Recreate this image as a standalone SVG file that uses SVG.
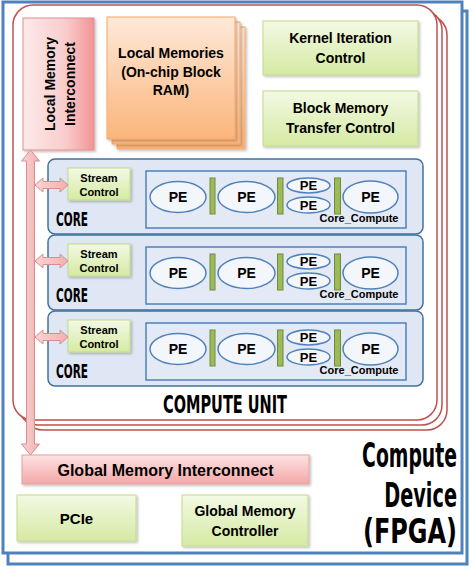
<svg xmlns="http://www.w3.org/2000/svg" width="474" height="567" viewBox="0 0 474 567">
<defs>
  <linearGradient id="gGreen" x1="0" y1="0" x2="0" y2="1">
    <stop offset="0" stop-color="#f3f9e4"/>
    <stop offset="1" stop-color="#d5eaa3"/>
  </linearGradient>
  <linearGradient id="gOrange" x1="0" y1="0" x2="0" y2="1">
    <stop offset="0" stop-color="#fee9d9"/>
    <stop offset="1" stop-color="#fbb57b"/>
  </linearGradient>
  <linearGradient id="gPinkV" x1="0" y1="0" x2="0" y2="1">
    <stop offset="0" stop-color="#fde3e3"/>
    <stop offset="1" stop-color="#f4a7a7"/>
  </linearGradient>
  <linearGradient id="gPinkH" x1="0" y1="0" x2="1" y2="0">
    <stop offset="0" stop-color="#fdeaea"/>
    <stop offset="0.6" stop-color="#f9cccc"/>
    <stop offset="1" stop-color="#f29494"/>
  </linearGradient>
  <linearGradient id="gArrow" x1="0" y1="0" x2="1" y2="0">
    <stop offset="0" stop-color="#f9d4d4"/>
    <stop offset="1" stop-color="#f3b0b0"/>
  </linearGradient>
  <filter id="sh" x="-10%" y="-10%" width="125%" height="125%">
    <feDropShadow dx="1.5" dy="1.5" stdDeviation="1" flood-color="#000" flood-opacity="0.25"/>
  </filter>
</defs>
<style>
  .txt { font-family: "Liberation Sans", Arial, sans-serif; font-weight: bold; fill: #000; text-anchor: middle; }
  .cond { font-family: "DejaVu Sans Condensed", "Liberation Sans Narrow", sans-serif; font-weight: bold; fill: #000; }
  .green { fill: url(#gGreen); stroke: #c3da8c; stroke-width: 1; filter: url(#sh); }
  .orange { fill: url(#gOrange); stroke: #f5a767; stroke-width: 1; filter: url(#sh); }
  .pinkv { fill: url(#gPinkV); stroke: #e3a3a3; stroke-width: 1; filter: url(#sh); }
  .pinkh { fill: url(#gPinkH); stroke: #e08f8f; stroke-width: 1; filter: url(#sh); }
  .dev { fill: #fff; stroke: #4f81bd; stroke-width: 3; }
  .cu { fill: #fff; stroke: #c0504d; stroke-width: 1.5; }
  .core { fill: #dee7f3; stroke: #41719c; stroke-width: 1.5; }
  .inner { fill: #e3eaf5; stroke: #4f81bd; stroke-width: 1.5; }
  .pe { fill: #f3f6fb; stroke: #4f81bd; stroke-width: 1.5; }
  .bar { fill: #9bbb59; stroke: #71893f; stroke-width: 1; }
  .arrow { fill: url(#gArrow); stroke: #d98e8e; stroke-width: 1; }
</style>

<g id="compute-device">
  <rect class="dev" x="8" y="11" width="459" height="553"/>
  <rect class="dev" x="3" y="2" width="459" height="551"/>
  <text class="cond" font-size="33" text-anchor="end" transform="translate(457,467) scale(0.65,1)" textLength="146" lengthAdjust="spacingAndGlyphs">Compute</text>
  <text class="cond" font-size="33" text-anchor="end" transform="translate(457,507) scale(0.65,1)" textLength="112" lengthAdjust="spacingAndGlyphs">Device</text>
  <text class="cond" font-size="33" text-anchor="end" transform="translate(457,543) scale(0.8,1)" textLength="117.5" lengthAdjust="spacingAndGlyphs">(FPGA)</text>
</g>

<g id="compute-unit">
  <rect class="cu" x="23" y="15" width="424" height="415" rx="20"/>
  <rect class="cu" x="18" y="10" width="424" height="415" rx="20"/>
  <rect class="cu" x="13" y="5" width="424" height="415" rx="20"/>
  <text class="cond" font-size="25" x="163" y="413" textLength="124" lengthAdjust="spacingAndGlyphs">COMPUTE UNIT</text>
</g>

<g id="local-memory-interconnect">
  <rect class="pinkh" x="23" y="18" width="71" height="132"/>
  <text class="txt" font-size="14" transform="translate(55,84) rotate(-90)">Local Memory</text>
  <text class="txt" font-size="14" transform="translate(75,84) rotate(-90)">Interconnect</text>
</g>

<g id="local-memories">
  <rect class="orange" x="117" y="27" width="128" height="122"/>
  <rect class="orange" x="112" y="22" width="128" height="122"/>
  <rect class="orange" x="107" y="17" width="128" height="122"/>
  <text class="txt" font-size="14" x="171" y="58">Local Memories</text>
  <text class="txt" font-size="14" x="171" y="77">(On-chip Block</text>
  <text class="txt" font-size="14" x="171" y="95">RAM)</text>
</g>

<g id="kernel-iteration-control">
  <rect class="green" x="263" y="21" width="155" height="54"/>
  <text class="txt" font-size="14" x="340.5" y="43">Kernel Iteration</text>
  <text class="txt" font-size="14" x="340.5" y="63">Control</text>
</g>

<g id="block-memory-transfer-control">
  <rect class="green" x="263" y="91" width="155" height="55"/>
  <text class="txt" font-size="14" x="340.5" y="113">Block Memory</text>
  <text class="txt" font-size="14" x="340.5" y="133">Transfer Control</text>
</g>

<g id="core-1" transform="translate(0,159)">
  <rect class="core" x="48" y="0" width="375" height="75" rx="7"/>
  <g id="stream-control-1">
    <rect class="green" x="68" y="9" width="62" height="32"/>
    <text class="txt" font-size="11" x="99" y="22.5">Stream</text>
    <text class="txt" font-size="11" x="99" y="37">Control</text>
  </g>
  <text class="cond" font-size="19" x="56" y="67" textLength="32" lengthAdjust="spacingAndGlyphs">CORE</text>
  <g id="core-compute-1">
    <rect class="inner" x="146" y="12" width="260" height="57"/>
    <ellipse class="pe" cx="178" cy="38" rx="28" ry="15.5"/>
    <text class="txt" font-size="14" x="178" y="43">PE</text>
    <rect class="bar" x="210" y="19" width="5" height="36"/>
    <ellipse class="pe" cx="246.5" cy="38" rx="28.5" ry="15.5"/>
    <text class="txt" font-size="14" x="246.5" y="43">PE</text>
    <rect class="bar" x="277.5" y="19" width="5.5" height="36"/>
    <ellipse class="pe" cx="308.5" cy="26.5" rx="21.5" ry="7.5"/>
    <text class="txt" font-size="13" x="308.5" y="31">PE</text>
    <ellipse class="pe" cx="308.5" cy="46" rx="21.5" ry="8"/>
    <text class="txt" font-size="13" x="308.5" y="50.5">PE</text>
    <rect class="bar" x="334.5" y="19" width="6" height="36"/>
    <ellipse class="pe" cx="370.5" cy="38" rx="27.5" ry="16"/>
    <text class="txt" font-size="14" x="370.5" y="43">PE</text>
    <text class="txt" font-size="11" x="359" y="63">Core_Compute</text>
  </g>
</g>

<g id="core-2" transform="translate(0,235)">
  <rect class="core" x="48" y="0" width="375" height="75" rx="7"/>
  <g id="stream-control-2">
    <rect class="green" x="68" y="9" width="62" height="32"/>
    <text class="txt" font-size="11" x="99" y="22.5">Stream</text>
    <text class="txt" font-size="11" x="99" y="37">Control</text>
  </g>
  <text class="cond" font-size="19" x="56" y="67" textLength="32" lengthAdjust="spacingAndGlyphs">CORE</text>
  <g id="core-compute-2">
    <rect class="inner" x="146" y="12" width="260" height="57"/>
    <ellipse class="pe" cx="178" cy="38" rx="28" ry="15.5"/>
    <text class="txt" font-size="14" x="178" y="43">PE</text>
    <rect class="bar" x="210" y="19" width="5" height="36"/>
    <ellipse class="pe" cx="246.5" cy="38" rx="28.5" ry="15.5"/>
    <text class="txt" font-size="14" x="246.5" y="43">PE</text>
    <rect class="bar" x="277.5" y="19" width="5.5" height="36"/>
    <ellipse class="pe" cx="308.5" cy="26.5" rx="21.5" ry="7.5"/>
    <text class="txt" font-size="13" x="308.5" y="31">PE</text>
    <ellipse class="pe" cx="308.5" cy="46" rx="21.5" ry="8"/>
    <text class="txt" font-size="13" x="308.5" y="50.5">PE</text>
    <rect class="bar" x="334.5" y="19" width="6" height="36"/>
    <ellipse class="pe" cx="370.5" cy="38" rx="27.5" ry="16"/>
    <text class="txt" font-size="14" x="370.5" y="43">PE</text>
    <text class="txt" font-size="11" x="359" y="63">Core_Compute</text>
  </g>
</g>

<g id="core-3" transform="translate(0,311)">
  <rect class="core" x="48" y="0" width="375" height="75" rx="7"/>
  <g id="stream-control-3">
    <rect class="green" x="68" y="9" width="62" height="32"/>
    <text class="txt" font-size="11" x="99" y="22.5">Stream</text>
    <text class="txt" font-size="11" x="99" y="37">Control</text>
  </g>
  <text class="cond" font-size="19" x="56" y="67" textLength="32" lengthAdjust="spacingAndGlyphs">CORE</text>
  <g id="core-compute-3">
    <rect class="inner" x="146" y="12" width="260" height="57"/>
    <ellipse class="pe" cx="178" cy="38" rx="28" ry="15.5"/>
    <text class="txt" font-size="14" x="178" y="43">PE</text>
    <rect class="bar" x="210" y="19" width="5" height="36"/>
    <ellipse class="pe" cx="246.5" cy="38" rx="28.5" ry="15.5"/>
    <text class="txt" font-size="14" x="246.5" y="43">PE</text>
    <rect class="bar" x="277.5" y="19" width="5.5" height="36"/>
    <ellipse class="pe" cx="308.5" cy="26.5" rx="21.5" ry="7.5"/>
    <text class="txt" font-size="13" x="308.5" y="31">PE</text>
    <ellipse class="pe" cx="308.5" cy="46" rx="21.5" ry="8"/>
    <text class="txt" font-size="13" x="308.5" y="50.5">PE</text>
    <rect class="bar" x="334.5" y="19" width="6" height="36"/>
    <ellipse class="pe" cx="370.5" cy="38" rx="27.5" ry="16"/>
    <text class="txt" font-size="14" x="370.5" y="43">PE</text>
    <text class="txt" font-size="11" x="359" y="63">Core_Compute</text>
  </g>
</g>

<g id="global-memory-interconnect">
  <rect class="pinkv" x="22" y="455" width="287" height="29"/>
  <text class="txt" font-size="16" x="165.5" y="475.5">Global Memory Interconnect</text>
</g>

<g id="pcie">
  <rect class="green" x="17" y="495" width="119" height="46"/>
  <text class="txt" font-size="15" x="76.5" y="523.5">PCIe</text>
</g>

<g id="global-memory-controller">
  <rect class="green" x="182" y="495" width="126" height="51"/>
  <text class="txt" font-size="14" x="245" y="516">Global Memory</text>
  <text class="txt" font-size="14" x="245" y="536">Controller</text>
</g>

<g id="connectors">
  <polygon class="arrow" points="30.5,150 39.5,161 34.5,161 34.5,444 39.5,444 30.5,455 21.5,444 26.5,444 26.5,161 21.5,161"/>
  <polygon class="arrow" points="35,185 43,178 43,181.5 60,181.5 60,178 68,185 60,192 60,188.5 43,188.5 43,192"/>
  <polygon class="arrow" points="35,261 43,254 43,257.5 60,257.5 60,254 68,261 60,268 60,264.5 43,264.5 43,268"/>
  <polygon class="arrow" points="35,337 43,330 43,333.5 60,333.5 60,330 68,337 60,344 60,340.5 43,340.5 43,344"/>
</g>
</svg>
